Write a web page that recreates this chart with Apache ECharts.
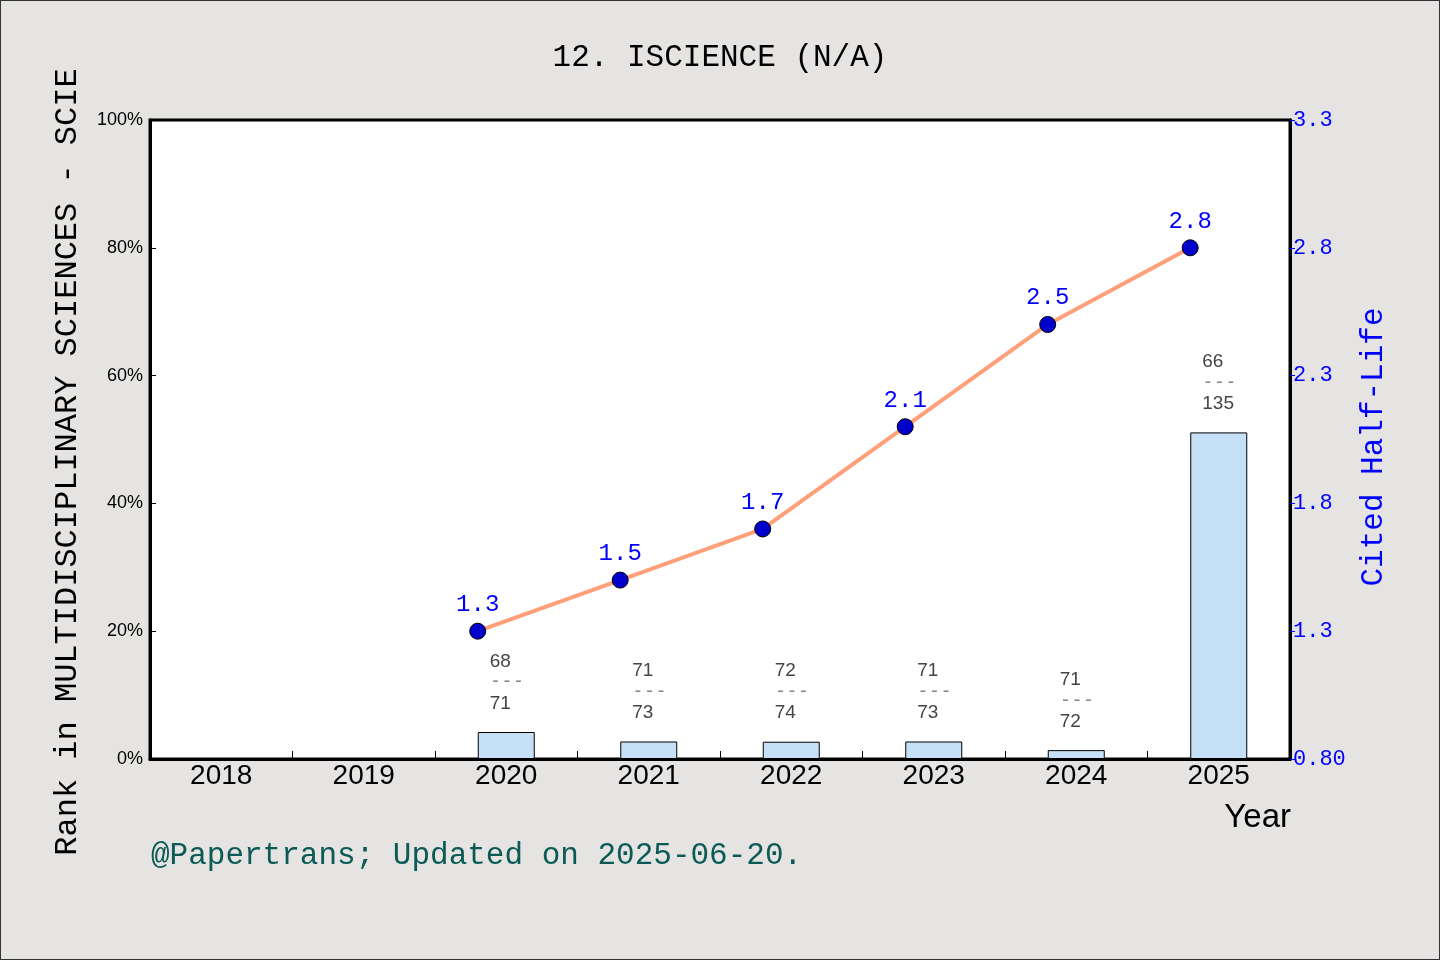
<!DOCTYPE html>
<html>
<head>
<meta charset="utf-8">
<script src="https://cdn.jsdelivr.net/npm/echarts@6/dist/echarts.min.js"></script>
<style>
html,body{margin:0;padding:0;background:#e5e4e2;}
#main{width:1440px;height:960px;box-sizing:border-box;border:1px solid #333;}
</style>
</head>
<body>
<div id="main"></div>
<script>
const years = ['2018','2019','2020','2021','2022','2023','2024','2025'];
const ranks = [null, null, 68, 71, 72, 71, 71, 66];
const totals = [null, null, 71, 73, 74, 73, 72, 135];
const halfLife = [null, null, 1.3, 1.5, 1.7, 2.1, 2.5, 2.8];
const leftTicks = [0, 20, 40, 60, 80, 100];
const rightTicks = [0.8, 1.3, 1.8, 2.3, 2.8, 3.3];

const barData = ranks.map((r, i) => r == null ? null : {
  value: (totals[i] - r) / totals[i] * 100,
  rank: r, total: totals[i]
});

const mono = 'Liberation Mono';
// line points sit at the left edge of each bar (bar width = 40% of a band)
const shift = 0.2 * (1440 - 149 - 149) / years.length;
const chart = echarts.init(document.getElementById('main'));
chart.setOption({
  backgroundColor: '#e5e4e2',
  animation: false,
  title: {
    text: '12. ISCIENCE (N/A)',
    left: 'center', top: 36,
    textStyle: {fontFamily: mono, fontSize: 31, fontWeight: 'normal', color: '#000'}
  },
  grid: [{
    left: 149, right: 149, top: 119, bottom: 200,
    show: true, backgroundColor: '#fff', borderColor: '#000', borderWidth: 3
  }, {
    left: 149 - shift, right: 149 + shift, top: 119, bottom: 200, show: false
  }],
  xAxis: [{
    type: 'category', data: years, gridIndex: 0,
    axisLine: {lineStyle: {color: '#000', width: 3}},
    axisTick: {show: true, interval: 0, inside: true, length: 8, lineStyle: {color: '#000', width: 1}},
    axisLabel: {fontFamily: 'Liberation Sans', fontSize: 28, color: '#000', margin: 3}
  }, {
    type: 'category', data: years, gridIndex: 1, show: false
  }],
  yAxis: [{
    type: 'value', min: 0, max: 100, interval: 20, gridIndex: 0,
    splitLine: {show: false},
    axisLine: {show: true, lineStyle: {color: '#000', width: 3}},
    axisTick: {show: true, inside: true, length: 6, lineStyle: {color: '#000', width: 1}},
    axisLabel: {fontFamily: 'Liberation Sans', fontSize: 18, color: '#000', margin: 7,
      formatter: v => leftTicks.includes(v) ? v + '%' : ''}
  }, {
    type: 'value', min: 0.8, max: 3.3, position: 'right', gridIndex: 0,
    splitLine: {show: false},
    axisLine: {show: true, lineStyle: {color: '#000', width: 3}},
    axisTick: {show: true, inside: false, length: 5, customValues: rightTicks,
      lineStyle: {color: '#0000ff', width: 1}},
    axisLabel: {fontFamily: mono, fontSize: 22, color: '#0000ff', margin: 3,
      customValues: rightTicks,
      formatter: v => Math.abs(v - 0.8) < 1e-9 ? '0.80' : v.toFixed(1)}
  }, {
    type: 'value', min: 0.8, max: 3.3, gridIndex: 1, show: false,
    splitLine: {show: false}
  }],
  graphic: [
    {type: 'text', x: 67, y: 461, rotation: Math.PI / 2,
      style: {text: 'Rank in MULTIDISCIPLINARY SCIENCES - SCIE', font: '32px "Liberation Mono"',
        fill: '#000', align: 'center', verticalAlign: 'middle'}},
    {type: 'text', x: 1373, y: 446, rotation: Math.PI / 2,
      style: {text: 'Cited Half-Life', font: '31px "Liberation Mono"',
        fill: '#0000ff', align: 'center', verticalAlign: 'middle'}},
    {type: 'text', x: 1290, y: 817,
      style: {text: 'Year', font: '33px "Liberation Sans"', fill: '#000',
        align: 'right', verticalAlign: 'middle'}},
    {type: 'text', x: 150, y: 855,
      style: {text: '@Papertrans; Updated on 2025-06-20.', font: '31px "Liberation Mono"',
        fill: '#0b5a55', align: 'left', verticalAlign: 'middle'}}
  ],
  series: [{
    type: 'bar', data: barData, xAxisIndex: 0, yAxisIndex: 0, barWidth: '40%',
    itemStyle: {color: '#c5e0f7', borderColor: '#000', borderWidth: 1},
    label: {
      show: true, position: 'top', distance: 18,
      formatter: p => p.data ? '{n|' + p.data.rank + '}\n{d|---}\n{n|' + p.data.total + '}' : '',
      rich: {
        n: {fontFamily: 'Liberation Sans', fontSize: 19, color: '#444', lineHeight: 21, width: 33, align: 'left'},
        d: {fontFamily: 'DejaVu Sans Mono', fontSize: 19, color: '#888', lineHeight: 21, width: 33, align: 'left'}
      }
    }
  }, {
    type: 'line', data: halfLife, xAxisIndex: 1, yAxisIndex: 2, connectNulls: false,
    lineStyle: {color: '#ffa07a', width: 4},
    symbol: 'circle', symbolSize: 16,
    itemStyle: {color: '#0000cd', borderColor: '#000', borderWidth: 1},
    label: {show: true, position: 'top', distance: 6,
      fontFamily: mono, fontSize: 24, color: '#0000ff',
      formatter: p => p.value == null ? '' : p.value.toFixed(1)}
  }]
});
</script>
</body>
</html>
